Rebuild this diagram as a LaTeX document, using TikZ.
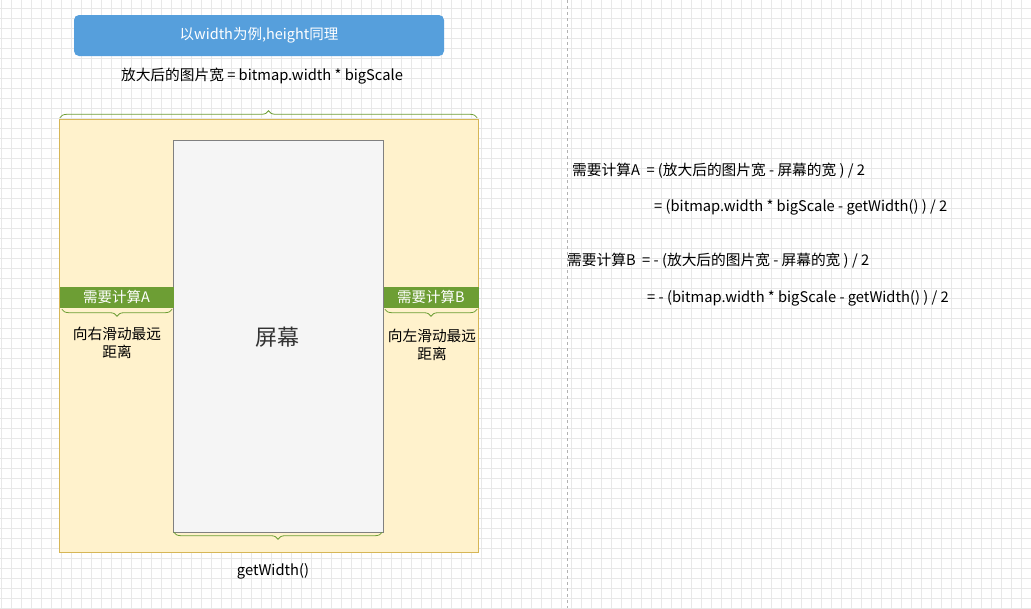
\documentclass[tikz,border=0pt]{standalone}
\usepackage{fontspec}
\setmainfont{Noto Sans CJK SC}
\usetikzlibrary{decorations.pathreplacing}
\definecolor{bluebox}{HTML}{569FDC}
\definecolor{greenbox}{HTML}{6D9E34}
\definecolor{yel}{HTML}{FFF2CC}
\definecolor{yeld}{HTML}{D6B656}
\definecolor{scr}{HTML}{F5F5F5}
\definecolor{gridc}{HTML}{E8E8E8}
\tikzset{
  txt/.style={font=\fontsize{14.7}{18}\selectfont, text=black, inner sep=0pt},
  gbox/.style={fill=greenbox, draw=greenbox, text=white, font=\fontsize{14.5}{16}\selectfont, inner sep=0pt},
  brc/.style={draw=greenbox, line width=0.8pt, decorate, decoration={brace, amplitude=7pt}},
}
\begin{document}
\begin{tikzpicture}[x=1pt,y=-1pt]
\useasboundingbox (0,0) rectangle (1031,608);
\fill[white] (0,0) rectangle (1031,608);
\foreach \i in {0,10,...,1030} \draw[gridc, line width=0.5pt] (\i+1,0) -- (\i+1,608);
\foreach \j in {0,10,...,600} \draw[gridc, line width=0.5pt] (0,\j+8) -- (1031,\j+8);
\draw[gray!60, dashed, line width=0.6pt] (567,0) -- (567,608);
\node[fill=bluebox, rounded corners=5pt, minimum width=370pt, minimum height=41pt, text=white, font=\fontsize{14.5}{16}\selectfont] (title) at (259,35.5) {以width为例,height同理};
\node[txt] (formula) at (262,76) {放大后的图片宽 = bitmap.width * bigScale};
\node[fill=yel, draw=yeld, minimum width=419pt, minimum height=433pt, inner sep=0pt] (img) at (268.5,335.5) {};
\node[fill=scr, draw=gray, minimum width=210pt, minimum height=392pt, inner sep=0pt] (screen) at (278,336) {};
\node[txt, font=\fontsize{22}{26}\selectfont, text=black!80] (scrtxt) at (277,337) {屏幕};
\draw[brc] (img.north west)++(1,-1) coordinate (t1) -- ([shift={(-1,-1)}]img.north east) coordinate (t2);
\node[gbox, minimum width=113pt, minimum height=20pt] (A) at (116.5,297) {需要计算A};
\node[gbox, minimum width=94pt, minimum height=20pt] (B) at (431,297) {需要计算B};
\draw[brc] ([shift={(-1,2)}]A.south east) -- ([shift={(2,2)}]A.south west);
\draw[brc] ([shift={(-1,2)}]B.south east) -- ([shift={(1,2)}]B.south west);
\draw[brc] ([shift={(-1,0)}]screen.south east) -- ([shift={(1,0)}]screen.south west);
\node[txt, align=center] (la) at (117,343) {向右滑动最远\\距离};
\node[txt, align=center] (lb) at (432,345) {向左滑动最远\\距离};
\node[txt] (gw) at (273,571) {getWidth()};
\node[txt, anchor=west] (r1) at (572,171) {需要计算A\ \ = (放大后的图片宽 - 屏幕的宽 ) / 2};
\node[txt, anchor=west] (r2) at (654,207) {= (bitmap.width * bigScale - getWidth() ) / 2};
\node[txt, anchor=west] (r3) at (567,261) {需要计算B\ \ = - (放大后的图片宽 - 屏幕的宽 ) / 2};
\node[txt, anchor=west] (r4) at (647,298) {= - (bitmap.width * bigScale - getWidth() ) / 2};
\end{tikzpicture}
\end{document}
